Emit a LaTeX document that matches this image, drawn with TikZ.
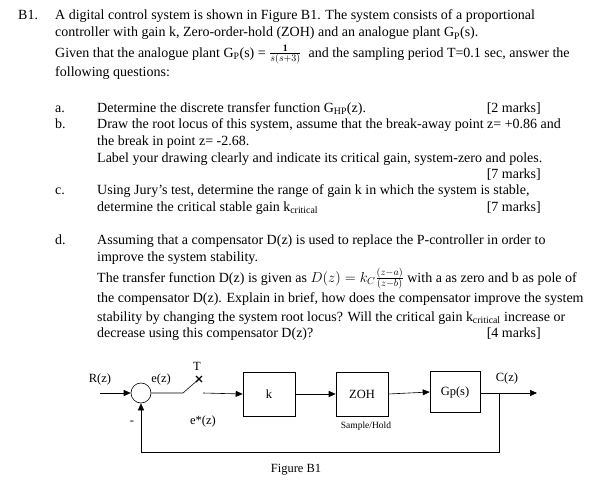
\documentclass[tikz,border=0pt]{standalone}
\usepackage{fontspec}
\setmainfont{Liberation Serif}
\usetikzlibrary{arrows.meta,calc}
\begin{document}
\begin{tikzpicture}[x=1pt,y=-1pt,
  tx/.style={anchor=base west,inner sep=0pt,font=\fontsize{14}{16}\selectfont},
  tr/.style={anchor=base east,inner sep=0pt,font=\fontsize{14}{16}\selectfont},
  dl/.style={inner sep=0pt,font=\fontsize{12.5}{14}\selectfont},
  blk/.style={draw,line width=0.6pt,minimum width=52pt,minimum height=44pt,font=\fontsize{12.5}{14}\selectfont},
  ar/.style={-{Triangle[length=7pt,width=6pt]},line width=0.6pt},
  ln/.style={line width=0.6pt}]
\useasboundingbox (0,0) rectangle (610,487);
% text
\node[tx] (b1) at (18,20) {B1.};
\node[tx] (p1) at (55,20) {A digital control system is shown in Figure B1. The system consists of a proportional};
\node[tx] (p2) at (55,37) {controller with gain k, Zero-order-hold (ZOH) and an analogue plant G\textsubscript{P}(s).};
\node[tx] (p3) at (55,57) {Given that the analogue plant G\textsubscript{P}(s) = $\frac{\mathbf{1}}{s(s+3)}$ \ and the sampling period T=0.1 sec, answer the};
\node[tx] (p4) at (55,77) {following questions:};
\node[tx] (la) at (55,112) {a.};
\node[tx] (a1) at (97,112) {Determine the discrete transfer function G\textsubscript{HP}(z).};
\node[tr] (am) at (541,112) {[2 marks]};
\node[tx] (lb) at (55,128.5) {b.};
\node[tx] (b1a) at (97,128.5) {Draw the root locus of this system, assume that the break-away point z= +0.86 and};
\node[tx] (b1b) at (97,145) {the break in point z= -2.68.};
\node[tx] (b1c) at (97,162) {Label your drawing clearly and indicate its critical gain, system-zero and poles.};
\node[tr] (bm) at (541,178) {[7 marks]};
\node[tx] (lc) at (55,194) {c.};
\node[tx] (c1) at (97,194) {Using Jury's test, determine the range of gain k in which the system is stable,};
\node[tx] (c2) at (97,211) {determine the critical stable gain k\textsubscript{critical}};
\node[tr] (cm) at (541,211) {[7 marks]};
\node[tx] (ld) at (55,244) {d.};
\node[tx] (d1) at (97,244) {Assuming that a compensator D(z) is used to replace the P-controller in order to};
\node[tx] (d2) at (97,261) {improve the system stability.};
\node[tx] (d3) at (97,282) {The transfer function D(z) is given as $D(z)=k_C\frac{(z-a)}{(z-b)}$ with a as zero and b as pole of};
\node[tx] (d4) at (97,302) {the compensator D(z). Explain in brief, how does the compensator improve the system};
\node[tx] (d5) at (97,321) {stability by changing the system root locus? Will the critical gain k\textsubscript{critical} increase or};
\node[tx] (d6) at (97,337) {decrease using this compensator D(z)?};
\node[tr] (dm) at (541,337) {[4 marks]};
% diagram
\coordinate (in) at (100,393);
\node[draw,circle,line width=0.6pt,minimum size=20pt,inner sep=0pt] (sum) at (141,393) {};
\coordinate (sw1) at (183,393);
\coordinate (sw2) at (199,379);
\coordinate (sw3) at (203,393);
\node[blk] (k) at (269,394) {k};
\node[blk] (zoh) at (362,394) {ZOH};
\node[blk,minimum width=50pt,minimum height=41pt] (gp) at (455,392) {Gp(s)};
\coordinate (br) at (499,393);
\coordinate (out) at (537,393);
\coordinate (fb1) at (499,452);
\coordinate (fb2) at (141,452);
\draw[ar] (in) -- (sum.west);
\draw[ln] (sum.east) -- (sw1) -- (sw2);
\draw[ln,line width=1.2pt] ($(sw2)+(-3,-3)$) -- ++(6,6) ($(sw2)+(-3,3)$) -- ++(6,-6);
\draw[ar] (sw3) -- (k.west);
\draw[ar] (k.east) -- (zoh.west);
\draw[ar] (zoh.east) -- (gp.west);
\draw[ar] (gp.east |- br) -- (out);
\draw[ar] (br) -- (fb1) -- (fb2) -- (sum.south);
\node[dl] (rz) at (100,379) {R(z)};
\node[dl] (ez) at (161,379) {e(z)};
\node[dl] (T) at (197,366) {T};
\node[dl] (cz) at (507,378) {C(z)};
\node[dl] (es) at (203,421) {e*(z)};
\node[dl] (mn) at (132,423) {-};
\node[inner sep=0pt,font=\fontsize{9.5}{10}\selectfont] (sh) at (366,426) {Sample/Hold};
\node[inner sep=0pt,font=\fontsize{12.5}{14}\selectfont] (fig) at (296,470) {Figure B1};
\end{tikzpicture}
\end{document}
